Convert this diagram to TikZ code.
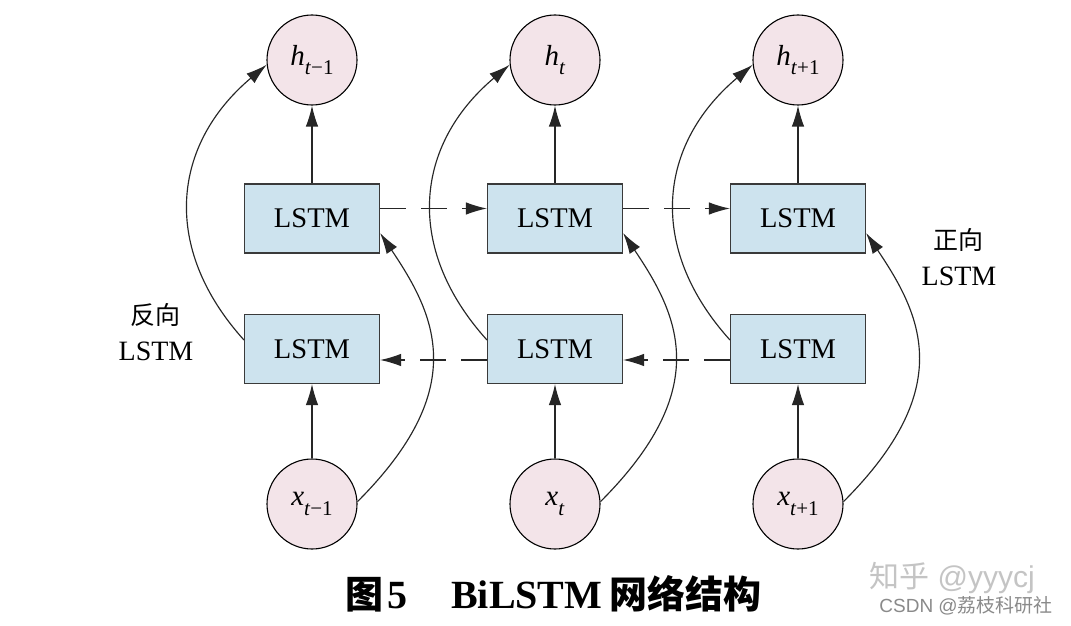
\documentclass[tikz,border=0pt]{standalone}
\usepackage{fontspec}
\setmainfont{Liberation Serif}
\newfontfamily\cjk{Noto Sans CJK SC}
\newfontfamily\wmfont{Liberation Sans}
\usetikzlibrary{arrows.meta}
\definecolor{boxfill}{HTML}{CDE3EE}
\definecolor{circfill}{HTML}{F3E4E9}
\definecolor{boxline}{HTML}{3A3A3A}
\definecolor{wmlight}{HTML}{C4C4C4}
\definecolor{wmdark}{HTML}{8A8A8A}
\newcommand\vsub[2]{\textit{#1}\raisebox{-0.32em}{\fontsize{21}{22}\selectfont\textit{t}#2}}
\begin{document}
\begin{tikzpicture}[x=1pt,y=-1pt,
  lstm/.style={draw=boxline, fill=boxfill, line width=1.1pt, minimum width=135pt, minimum height=69pt, inner sep=0pt, font=\fontsize{28.5}{30}\selectfont},
  var/.style={circle, draw=black, fill=circfill, line width=1.1pt, minimum size=90pt, inner sep=0pt, font=\fontsize{29}{30}\selectfont},
  arr/.style={-{Latex[length=21pt,width=12.5pt]}, line width=1.15pt, draw=black!85},
  dasharr/.style={arr, dash pattern=on 26pt off 15pt},
  lbl/.style={font=\fontsize{28}{32}\selectfont, align=center, inner sep=0pt},
  cjklbl/.style={font=\cjk\fontsize{25}{30}\selectfont, inner sep=0pt},
  captext/.style={inner sep=0pt, font=\fontsize{40}{42}\selectfont\bfseries}
]
\fill[white] (0,0) rectangle (1071,626);
\useasboundingbox (0,0) rectangle (1071,626);

% output circles
\node[var] (h1) at (312,60) {\vsub{h}{−1}};
\node[var] (h2) at (555,60) {\vsub{h}{}};
\node[var] (h3) at (798,60) {\vsub{h}{+1}};
% forward LSTM (top row)
\node[lstm] (f1) at (312,218.5) {LSTM};
\node[lstm] (f2) at (555,218.5) {LSTM};
\node[lstm] (f3) at (798,218.5) {LSTM};
% backward LSTM (bottom row)
\node[lstm] (b1) at (312,349) {LSTM};
\node[lstm] (b2) at (555,349) {LSTM};
\node[lstm] (b3) at (798,349) {LSTM};
% input circles
\node[var] (x1) at (312,504) {\vsub{x}{−1}};
\node[var] (x2) at (555,504) {\vsub{x}{}};
\node[var] (x3) at (798,504) {\vsub{x}{+1}};

% labels
\node[cjklbl] (lb1) at (155,315) {反向};
\node[lbl] (lb2) at (156,351) {LSTM};
\node[cjklbl] (rb1) at (958,240) {正向};
\node[lbl] (rb2) at (959,276) {LSTM};

% vertical arrows
\foreach \i in {1,2,3}{
  \draw[arr] (f\i) -- (h\i);
  \draw[arr] (x\i) -- (b\i);
  % backward LSTM to output
  \draw[arr] ([yshift=9pt]b\i.west) .. controls +(-83,-92) and +(-95,80) .. (h\i.186);
  % input to forward LSTM
  \draw[arr] (x\i.3) .. controls +(113,-113) and +(56,83) .. ([yshift=-14.5pt]f\i.east);
}

% dashed recurrent arrows
\draw[dasharr] ([yshift=10pt]f1.east) -- ([yshift=10pt]f2.west);
\draw[dasharr] ([yshift=10pt]f2.east) -- ([yshift=10pt]f3.west);
\draw[dasharr] ([yshift=-11pt]b2.west) -- ([yshift=-11pt]b1.east);
\draw[dasharr] ([yshift=-11pt]b3.west) -- ([yshift=-11pt]b2.east);

% caption
\node[captext, anchor=base west] (cap1) at (345,608) {{\cjk\fontsize{38}{40}\selectfont 图}\hspace{4pt}5};
\node[captext, anchor=base west] (cap2) at (451,608) {BiLSTM};
\node[captext, anchor=base west] (cap3) at (609,608) {\cjk\fontsize{38}{40}\selectfont 网络结构};

% watermarks
\node[anchor=base east, inner sep=0pt, text=wmlight, font=\wmfont\fontsize{30}{32}\selectfont] (wm1) at (1035,587)
  {{\cjk 知乎} @yyycj};
\node[anchor=base east, inner sep=0pt, text=wmdark, font=\wmfont\fontsize{19}{21}\selectfont] (wm2) at (1053,612)
  {CSDN @{\cjk 荔枝科研社}};
\end{tikzpicture}
\end{document}
